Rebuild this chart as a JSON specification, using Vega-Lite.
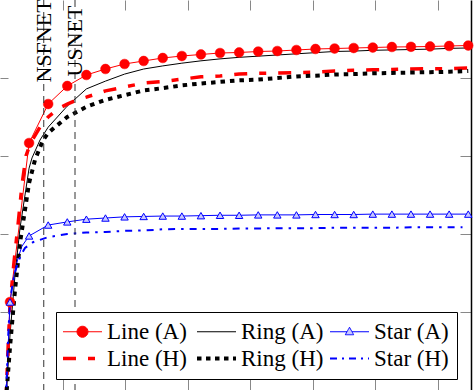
{
  "$schema": "https://vega.github.io/schema/vega-lite/v6.json",
  "width": 471,
  "height": 390,
  "autosize": {"type": "none"},
  "padding": {"left": 0, "top": 0, "right": 3, "bottom": 0},
  "background": "white",
  "config": {"view": {"stroke": null}},
  "datasets": {
    "nets": [{"net": "NSFNET", "x": 14}, {"net": "USNET", "x": 24}],
    "curves": [
      {"series": "Line (A)", "x": 1.92, "y": -0.026}, {"series": "Line (A)", "x": 3.2, "y": 0.2256}, {"series": "Line (A)", "x": 9.31, "y": 0.6333}, {"series": "Line (A)", "x": 15.42, "y": 0.7333}, {"series": "Line (A)", "x": 21.53, "y": 0.7795}, {"series": "Line (A)", "x": 27.64, "y": 0.8077}, {"series": "Line (A)", "x": 33.75, "y": 0.8231}, {"series": "Line (A)", "x": 39.86, "y": 0.8359}, {"series": "Line (A)", "x": 45.97, "y": 0.8436}, {"series": "Line (A)", "x": 52.08, "y": 0.8513}, {"series": "Line (A)", "x": 58.19, "y": 0.8564}, {"series": "Line (A)", "x": 64.3, "y": 0.8603}, {"series": "Line (A)", "x": 70.41, "y": 0.8641}, {"series": "Line (A)", "x": 76.52, "y": 0.8654}, {"series": "Line (A)", "x": 82.63, "y": 0.8679}, {"series": "Line (A)", "x": 88.74, "y": 0.8692}, {"series": "Line (A)", "x": 94.85, "y": 0.8718}, {"series": "Line (A)", "x": 100.96, "y": 0.8744}, {"series": "Line (A)", "x": 107.07, "y": 0.8756}, {"series": "Line (A)", "x": 113.18, "y": 0.8769}, {"series": "Line (A)", "x": 119.29, "y": 0.8782}, {"series": "Line (A)", "x": 125.4, "y": 0.8795}, {"series": "Line (A)", "x": 131.51, "y": 0.88}, {"series": "Line (A)", "x": 137.62, "y": 0.8808}, {"series": "Line (A)", "x": 143.73, "y": 0.8821}, {"series": "Line (A)", "x": 149.84, "y": 0.8833},
      {"series": "Ring (A)", "x": 1.92, "y": -0.026}, {"series": "Ring (A)", "x": 3.2, "y": 0.141}, {"series": "Ring (A)", "x": 4.8, "y": 0.295}, {"series": "Ring (A)", "x": 6.4, "y": 0.415}, {"series": "Ring (A)", "x": 8.0, "y": 0.5}, {"series": "Ring (A)", "x": 9.31, "y": 0.569}, {"series": "Ring (A)", "x": 10.24, "y": 0.595}, {"series": "Ring (A)", "x": 12.8, "y": 0.641}, {"series": "Ring (A)", "x": 15.42, "y": 0.674}, {"series": "Ring (A)", "x": 21.53, "y": 0.728}, {"series": "Ring (A)", "x": 27.64, "y": 0.772}, {"series": "Ring (A)", "x": 33.75, "y": 0.792}, {"series": "Ring (A)", "x": 39.86, "y": 0.81}, {"series": "Ring (A)", "x": 45.97, "y": 0.823}, {"series": "Ring (A)", "x": 52.08, "y": 0.831}, {"series": "Ring (A)", "x": 58.19, "y": 0.838}, {"series": "Ring (A)", "x": 64.3, "y": 0.844}, {"series": "Ring (A)", "x": 70.41, "y": 0.849}, {"series": "Ring (A)", "x": 76.52, "y": 0.853}, {"series": "Ring (A)", "x": 82.63, "y": 0.856}, {"series": "Ring (A)", "x": 88.74, "y": 0.859}, {"series": "Ring (A)", "x": 94.85, "y": 0.862}, {"series": "Ring (A)", "x": 100.96, "y": 0.865}, {"series": "Ring (A)", "x": 107.07, "y": 0.868}, {"series": "Ring (A)", "x": 113.18, "y": 0.869}, {"series": "Ring (A)", "x": 119.29, "y": 0.871}, {"series": "Ring (A)", "x": 125.4, "y": 0.872}, {"series": "Ring (A)", "x": 131.51, "y": 0.873}, {"series": "Ring (A)", "x": 137.62, "y": 0.874}, {"series": "Ring (A)", "x": 143.73, "y": 0.876}, {"series": "Ring (A)", "x": 149.84, "y": 0.877},
      {"series": "Star (A)", "x": 1.92, "y": -0.026}, {"series": "Star (A)", "x": 3.2, "y": 0.2256}, {"series": "Star (A)", "x": 4.48, "y": 0.295}, {"series": "Star (A)", "x": 5.76, "y": 0.338}, {"series": "Star (A)", "x": 7.04, "y": 0.369}, {"series": "Star (A)", "x": 9.31, "y": 0.395}, {"series": "Star (A)", "x": 15.42, "y": 0.423}, {"series": "Star (A)", "x": 21.53, "y": 0.431}, {"series": "Star (A)", "x": 27.64, "y": 0.438}, {"series": "Star (A)", "x": 33.75, "y": 0.441}, {"series": "Star (A)", "x": 39.86, "y": 0.444}, {"series": "Star (A)", "x": 45.97, "y": 0.445}, {"series": "Star (A)", "x": 52.08, "y": 0.446}, {"series": "Star (A)", "x": 58.19, "y": 0.446}, {"series": "Star (A)", "x": 64.3, "y": 0.447}, {"series": "Star (A)", "x": 70.41, "y": 0.448}, {"series": "Star (A)", "x": 76.52, "y": 0.448}, {"series": "Star (A)", "x": 82.63, "y": 0.449}, {"series": "Star (A)", "x": 88.74, "y": 0.449}, {"series": "Star (A)", "x": 94.85, "y": 0.449}, {"series": "Star (A)", "x": 100.96, "y": 0.45}, {"series": "Star (A)", "x": 107.07, "y": 0.45}, {"series": "Star (A)", "x": 113.18, "y": 0.45}, {"series": "Star (A)", "x": 119.29, "y": 0.451}, {"series": "Star (A)", "x": 125.4, "y": 0.451}, {"series": "Star (A)", "x": 131.51, "y": 0.451}, {"series": "Star (A)", "x": 137.62, "y": 0.451}, {"series": "Star (A)", "x": 143.73, "y": 0.451}, {"series": "Star (A)", "x": 149.84, "y": 0.451},
      {"series": "Line (H)", "x": 1.92, "y": -0.026}, {"series": "Line (H)", "x": 2.56, "y": 0.103}, {"series": "Line (H)", "x": 3.2, "y": 0.218}, {"series": "Line (H)", "x": 4.48, "y": 0.328}, {"series": "Line (H)", "x": 5.76, "y": 0.423}, {"series": "Line (H)", "x": 7.04, "y": 0.526}, {"series": "Line (H)", "x": 8.32, "y": 0.6}, {"series": "Line (H)", "x": 9.31, "y": 0.623}, {"series": "Line (H)", "x": 10.56, "y": 0.644}, {"series": "Line (H)", "x": 12.8, "y": 0.674}, {"series": "Line (H)", "x": 15.42, "y": 0.7}, {"series": "Line (H)", "x": 18.56, "y": 0.721}, {"series": "Line (H)", "x": 21.53, "y": 0.733}, {"series": "Line (H)", "x": 24.64, "y": 0.744}, {"series": "Line (H)", "x": 27.64, "y": 0.751}, {"series": "Line (H)", "x": 33.75, "y": 0.767}, {"series": "Line (H)", "x": 39.86, "y": 0.777}, {"series": "Line (H)", "x": 45.97, "y": 0.787}, {"series": "Line (H)", "x": 52.08, "y": 0.791}, {"series": "Line (H)", "x": 58.19, "y": 0.797}, {"series": "Line (H)", "x": 64.3, "y": 0.803}, {"series": "Line (H)", "x": 70.41, "y": 0.805}, {"series": "Line (H)", "x": 76.52, "y": 0.81}, {"series": "Line (H)", "x": 82.63, "y": 0.812}, {"series": "Line (H)", "x": 88.74, "y": 0.813}, {"series": "Line (H)", "x": 94.85, "y": 0.814}, {"series": "Line (H)", "x": 100.96, "y": 0.815}, {"series": "Line (H)", "x": 107.07, "y": 0.818}, {"series": "Line (H)", "x": 113.18, "y": 0.82}, {"series": "Line (H)", "x": 119.29, "y": 0.821}, {"series": "Line (H)", "x": 125.4, "y": 0.822}, {"series": "Line (H)", "x": 131.51, "y": 0.823}, {"series": "Line (H)", "x": 137.62, "y": 0.824}, {"series": "Line (H)", "x": 143.73, "y": 0.824}, {"series": "Line (H)", "x": 149.84, "y": 0.826},
      {"series": "Ring (H)", "x": 1.92, "y": -0.026}, {"series": "Ring (H)", "x": 3.2, "y": 0.11}, {"series": "Ring (H)", "x": 4.8, "y": 0.256}, {"series": "Ring (H)", "x": 6.4, "y": 0.377}, {"series": "Ring (H)", "x": 8.0, "y": 0.462}, {"series": "Ring (H)", "x": 9.31, "y": 0.531}, {"series": "Ring (H)", "x": 11.2, "y": 0.59}, {"series": "Ring (H)", "x": 13.76, "y": 0.641}, {"series": "Ring (H)", "x": 15.42, "y": 0.659}, {"series": "Ring (H)", "x": 17.6, "y": 0.674}, {"series": "Ring (H)", "x": 21.53, "y": 0.7}, {"series": "Ring (H)", "x": 27.64, "y": 0.726}, {"series": "Ring (H)", "x": 33.75, "y": 0.744}, {"series": "Ring (H)", "x": 39.86, "y": 0.756}, {"series": "Ring (H)", "x": 45.97, "y": 0.768}, {"series": "Ring (H)", "x": 52.08, "y": 0.774}, {"series": "Ring (H)", "x": 58.19, "y": 0.781}, {"series": "Ring (H)", "x": 64.3, "y": 0.786}, {"series": "Ring (H)", "x": 70.41, "y": 0.79}, {"series": "Ring (H)", "x": 76.52, "y": 0.794}, {"series": "Ring (H)", "x": 82.63, "y": 0.796}, {"series": "Ring (H)", "x": 88.74, "y": 0.8}, {"series": "Ring (H)", "x": 94.85, "y": 0.804}, {"series": "Ring (H)", "x": 100.96, "y": 0.806}, {"series": "Ring (H)", "x": 107.07, "y": 0.809}, {"series": "Ring (H)", "x": 113.18, "y": 0.81}, {"series": "Ring (H)", "x": 119.29, "y": 0.812}, {"series": "Ring (H)", "x": 125.4, "y": 0.813}, {"series": "Ring (H)", "x": 131.51, "y": 0.814}, {"series": "Ring (H)", "x": 137.62, "y": 0.815}, {"series": "Ring (H)", "x": 143.73, "y": 0.816}, {"series": "Ring (H)", "x": 149.84, "y": 0.818},
      {"series": "Star (H)", "x": 1.92, "y": -0.026}, {"series": "Star (H)", "x": 2.56, "y": 0.128}, {"series": "Star (H)", "x": 3.2, "y": 0.231}, {"series": "Star (H)", "x": 4.48, "y": 0.292}, {"series": "Star (H)", "x": 5.76, "y": 0.328}, {"series": "Star (H)", "x": 7.04, "y": 0.351}, {"series": "Star (H)", "x": 8.0, "y": 0.364}, {"series": "Star (H)", "x": 9.31, "y": 0.372}, {"series": "Star (H)", "x": 10.56, "y": 0.379}, {"series": "Star (H)", "x": 15.42, "y": 0.392}, {"series": "Star (H)", "x": 21.53, "y": 0.4}, {"series": "Star (H)", "x": 27.64, "y": 0.404}, {"series": "Star (H)", "x": 33.75, "y": 0.405}, {"series": "Star (H)", "x": 39.86, "y": 0.408}, {"series": "Star (H)", "x": 45.97, "y": 0.409}, {"series": "Star (H)", "x": 52.08, "y": 0.412}, {"series": "Star (H)", "x": 58.19, "y": 0.413}, {"series": "Star (H)", "x": 64.3, "y": 0.413}, {"series": "Star (H)", "x": 70.41, "y": 0.413}, {"series": "Star (H)", "x": 76.52, "y": 0.414}, {"series": "Star (H)", "x": 82.63, "y": 0.414}, {"series": "Star (H)", "x": 88.74, "y": 0.415}, {"series": "Star (H)", "x": 94.85, "y": 0.415}, {"series": "Star (H)", "x": 100.96, "y": 0.415}, {"series": "Star (H)", "x": 107.07, "y": 0.416}, {"series": "Star (H)", "x": 113.18, "y": 0.416}, {"series": "Star (H)", "x": 119.29, "y": 0.416}, {"series": "Star (H)", "x": 125.4, "y": 0.416}, {"series": "Star (H)", "x": 131.51, "y": 0.417}, {"series": "Star (H)", "x": 137.62, "y": 0.417}, {"series": "Star (H)", "x": 143.73, "y": 0.417}, {"series": "Star (H)", "x": 148.0, "y": 0.417}
    ]
  },
  "layer": [
    {
      "data": {"name": "curves"},
      "transform": [{"filter": "datum.series === 'Line (A)'"}],
      "mark": {"type": "line", "strokeWidth": 1, "clip": true},
      "encoding": {
        "x": {"field": "x", "type": "quantitative", "scale": {"domain": [0, 150.72], "nice": false, "zero": false},
              "axis": {"orient": "bottom", "values": [20, 40, 60, 80, 100, 120, 140], "labels": false, "domain": false, "grid": false, "title": null, "tickSize": -12, "tickColor": "#888", "tickWidth": 1}},
        "y": {"field": "y", "type": "quantitative", "scale": {"domain": [0, 1], "nice": false, "zero": false},
              "axis": {"orient": "left", "values": [0.2, 0.4, 0.6, 0.8], "labels": false, "domain": false, "grid": false, "title": null, "tickSize": -8, "tickColor": "#888", "tickWidth": 1}},
        "color": {"field": "series", "type": "nominal",
          "scale": {"domain": ["Line (A)", "Ring (A)", "Star (A)", "Line (H)", "Ring (H)", "Star (H)"], "range": ["#ff0000", "#000000", "#0000ff", "#ff0000", "#000000", "#0000ff"]},
          "legend": {
            "title": null, "orient": "none", "legendX": 56, "legendY": 312, "columns": 3, "direction": "horizontal",
            "padding": 8, "strokeColor": "black", "fillColor": "white",
            "symbolSize": 400, "symbolOffset": 7, "labelOffset": 13, "columnPadding": 2, "rowPadding": 3,
            "labelFont": "Liberation Serif", "labelFontSize": 23, "labelColor": "black", "labelLimit": 0,
            "encode": {
              "symbols": {
                "update": {
                  "shape": {"signal": "datum.value === 'Line (A)' ? 'M-1.95,0H-0.55M0.55,0H1.95M-0.55,0A0.55,0.55 0 1,0 0.55,0A0.55,0.55 0 1,0 -0.55,0Z' : datum.value === 'Star (A)' ? 'M-1.95,0H-0.25M0.25,0H1.95M0,-0.45L0.42,0.3L-0.42,0.3Z' : 'M-1.95,0H1.95'"},
                  "fill": {"signal": "datum.value === 'Line (A)' ? '#ff0000' : datum.value === 'Star (A)' ? '#c8c8ff' : 'transparent'"},
                  "stroke": {"signal": "scale('color', datum.value)"},
                  "strokeDash": {"signal": "datum.value === 'Line (H)' ? [13, 12, 7, 12] : datum.value === 'Ring (H)' ? [4.5, 4.5] : datum.value === 'Star (H)' ? [7, 5, 2, 5] : [1, 0]"},
                  "strokeWidth": {"signal": "datum.value === 'Line (H)' ? 3.5 : datum.value === 'Ring (H)' ? 4 : datum.value === 'Star (H)' ? 2 : 1"}
                }
              }
            }
          }
        }
      }
    },
    {
      "data": {"name": "curves"},
      "transform": [{"filter": "datum.series === 'Ring (A)'"}],
      "mark": {"type": "line", "strokeWidth": 1, "clip": true},
      "encoding": {
        "x": {"field": "x", "type": "quantitative", "scale": {"domain": [0, 150.72], "nice": false, "zero": false}, "axis": null},
        "y": {"field": "y", "type": "quantitative", "scale": {"domain": [0, 1], "nice": false, "zero": false}, "axis": null},
        "color": {"field": "series", "type": "nominal"}
      }
    },
    {
      "data": {"name": "curves"},
      "transform": [{"filter": "datum.series === 'Star (A)'"}],
      "mark": {"type": "line", "strokeWidth": 1, "clip": true},
      "encoding": {
        "x": {"field": "x", "type": "quantitative", "scale": {"domain": [0, 150.72], "nice": false, "zero": false}, "axis": null},
        "y": {"field": "y", "type": "quantitative", "scale": {"domain": [0, 1], "nice": false, "zero": false}, "axis": null},
        "color": {"field": "series", "type": "nominal"}
      }
    },
    {
      "data": {"name": "curves"},
      "transform": [{"filter": "datum.series === 'Line (H)'"}],
      "mark": {"type": "line", "strokeWidth": 3.5, "strokeDash": [13, 12, 7, 12], "clip": true},
      "encoding": {
        "x": {"field": "x", "type": "quantitative", "scale": {"domain": [0, 150.72], "nice": false, "zero": false}, "axis": null},
        "y": {"field": "y", "type": "quantitative", "scale": {"domain": [0, 1], "nice": false, "zero": false}, "axis": null},
        "color": {"field": "series", "type": "nominal"}
      }
    },
    {
      "data": {"name": "curves"},
      "transform": [{"filter": "datum.series === 'Ring (H)'"}],
      "mark": {"type": "line", "strokeWidth": 4, "strokeDash": [4.5, 5], "clip": true},
      "encoding": {
        "x": {"field": "x", "type": "quantitative", "scale": {"domain": [0, 150.72], "nice": false, "zero": false}, "axis": null},
        "y": {"field": "y", "type": "quantitative", "scale": {"domain": [0, 1], "nice": false, "zero": false}, "axis": null},
        "color": {"field": "series", "type": "nominal"}
      }
    },
    {
      "data": {"name": "curves"},
      "transform": [{"filter": "datum.series === 'Star (H)'"}],
      "mark": {"type": "line", "strokeWidth": 2, "strokeDash": [7, 6, 2.5, 6], "clip": true},
      "encoding": {
        "x": {"field": "x", "type": "quantitative", "scale": {"domain": [0, 150.72], "nice": false, "zero": false}, "axis": null},
        "y": {"field": "y", "type": "quantitative", "scale": {"domain": [0, 1], "nice": false, "zero": false}, "axis": null},
        "color": {"field": "series", "type": "nominal"}
      }
    },
    {
      "data": {"name": "curves"},
      "transform": [{"filter": "datum.series === 'Line (A)'"}, {"filter": {"field": "x", "oneOf": [3.2, 9.31, 15.42, 21.53, 27.64, 33.75, 39.86, 45.97, 52.08, 58.19, 64.3, 70.41, 76.52, 82.63, 88.74, 94.85, 100.96, 107.07, 113.18, 119.29, 125.4, 131.51, 137.62, 143.73, 149.84]}}],
      "mark": {"type": "point", "shape": "circle", "filled": true, "fill": "#ff0000", "stroke": "#ff0000", "strokeWidth": 0.5, "size": 95, "opacity": 1, "clip": false},
      "encoding": {
        "x": {"field": "x", "type": "quantitative", "scale": {"domain": [0, 150.72], "nice": false, "zero": false}, "axis": null},
        "y": {"field": "y", "type": "quantitative", "scale": {"domain": [0, 1], "nice": false, "zero": false}, "axis": null}
      }
    },
    {
      "data": {"name": "curves"},
      "transform": [{"filter": "datum.series === 'Star (A)'"}, {"filter": {"field": "x", "oneOf": [3.2, 9.31, 15.42, 21.53, 27.64, 33.75, 39.86, 45.97, 52.08, 58.19, 64.3, 70.41, 76.52, 82.63, 88.74, 94.85, 100.96, 107.07, 113.18, 119.29, 125.4, 131.51, 137.62, 143.73, 149.84]}}],
      "mark": {"type": "point", "shape": "triangle-up", "filled": true, "fill": "#c8c8ff", "stroke": "#0000ff", "strokeWidth": 1, "size": 55, "opacity": 1, "clip": false},
      "encoding": {
        "x": {"field": "x", "type": "quantitative", "scale": {"domain": [0, 150.72], "nice": false, "zero": false}, "axis": null},
        "y": {"field": "y", "type": "quantitative", "scale": {"domain": [0, 1], "nice": false, "zero": false}, "axis": null}
      }
    },
    {
      "data": {"name": "nets"},
      "mark": {"type": "rule", "stroke": "#333", "strokeWidth": 1, "strokeDash": [7, 5]},
      "encoding": {
        "x": {"field": "x", "type": "quantitative", "scale": {"domain": [0, 150.72], "nice": false, "zero": false},
              "axis": {"orient": "top", "values": [20, 40, 60, 80, 100, 120, 140], "labels": false, "domain": false, "grid": false, "title": null, "tickSize": -10, "tickColor": "#888", "tickWidth": 1}}
      }
    },
    {
      "data": {"name": "nets"},
      "mark": {"type": "text", "angle": 270, "align": "center", "baseline": "middle", "font": "Liberation Serif", "fontSize": 22, "color": "black"},
      "encoding": {
        "x": {"field": "x", "type": "quantitative", "scale": {"domain": [0, 150.72], "nice": false, "zero": false}, "axis": null},
        "y": {"datum": 0.895, "type": "quantitative", "scale": {"domain": [0, 1], "nice": false, "zero": false},
              "axis": {"orient": "right", "values": [0.2, 0.4, 0.6, 0.8], "labels": false, "domain": true, "domainColor": "black", "domainWidth": 1.5, "grid": false, "title": null, "tickSize": -11, "tickColor": "#888", "tickWidth": 1}},
        "text": {"field": "net", "type": "nominal"}
      }
    }
  ]
}
